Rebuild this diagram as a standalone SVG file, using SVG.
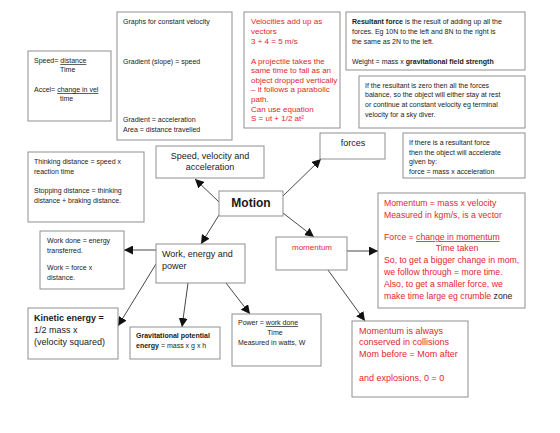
<svg xmlns="http://www.w3.org/2000/svg" width="560" height="433" viewBox="0 0 560 433">
<style>
.b{fill:#fff;stroke:#8f8f8f;stroke-width:1}
text{font-family:"Liberation Sans",Arial,sans-serif;fill:#1a1a1a}
.s{font-size:7px}
.m{font-size:8px}
.l{font-size:9px}
.mm{font-size:8.7px}
.r{fill:#e3262d}
.u{text-decoration:underline}
.c{stroke:#333;stroke-width:0.9;fill:none}
</style>
<defs>
<marker id="a" viewBox="0 0 10 10" refX="10" refY="5" markerWidth="9" markerHeight="9" markerUnits="userSpaceOnUse" orient="auto">
<path d="M0,0 L10,5 L0,10 z" fill="#111"/>
</marker>
</defs>
<g id="connectors">
<line class="c" x1="219" y1="202" x2="195" y2="179" marker-end="url(#a)"/>
<line class="c" x1="219" y1="215" x2="201" y2="244" marker-end="url(#a)"/>
<line class="c" x1="283" y1="196" x2="321" y2="159" marker-end="url(#a)"/>
<line class="c" x1="283" y1="213" x2="314" y2="237" marker-end="url(#a)"/>
<line class="c" x1="347" y1="251" x2="378" y2="251" marker-end="url(#a)"/>
<line class="c" x1="328" y1="270" x2="365" y2="321" marker-end="url(#a)"/>
<line class="c" x1="156" y1="250" x2="124" y2="250" marker-end="url(#a)"/>
<line class="c" x1="156" y1="264" x2="118" y2="326" marker-end="url(#a)"/>
<line class="c" x1="188" y1="283" x2="182" y2="327" marker-end="url(#a)"/>
<line class="c" x1="226" y1="283" x2="250" y2="314" marker-end="url(#a)"/>
</g>
<g id="speed-formula">
<rect class="b" x="28" y="51" width="83" height="70"/>
<text class="s" x="34" y="63">Speed= <tspan class="u">distance</tspan></text>
<text class="s" x="60" y="72">Time</text>
<text class="s" x="34" y="92">Accel= <tspan class="u">change in vel</tspan></text>
<text class="s" x="60" y="101">time</text>
</g>
<g id="graphs">
<rect class="b" x="117" y="12" width="115" height="128"/>
<text class="s" x="123" y="24">Graphs for constant velocity</text>
<text class="s" x="123" y="64">Gradient (slope) = speed</text>
<text class="s" x="123" y="122">Gradient = acceleration</text>
<text class="s" x="123" y="132">Area = distance travelled</text>
</g>
<g id="velocities">
<rect class="b" x="244" y="12" width="96" height="116"/>
<text class="m r" x="251" y="24">Velocities add up as</text>
<text class="m r" x="251" y="34">vectors</text>
<text class="m r" x="251" y="44">3 + 4 = 5 m/s</text>
<text class="m r" x="251" y="64">A projectile takes the</text>
<text class="m r" x="251" y="73">same time to fall as an</text>
<text class="m r" x="251" y="83">object dropped vertically</text>
<text class="m r" x="251" y="92">– it follows a parabolic</text>
<text class="m r" x="251" y="102">path.</text>
<text class="m r" x="251" y="112">Can use equation</text>
<text class="m r" x="251" y="121">S = ut + 1/2 at²</text>
</g>
<g id="resultant">
<rect class="b" x="346" y="12" width="179" height="58"/>
<text class="s" x="352" y="24"><tspan font-weight="bold">Resultant force</tspan> is the result of adding up all the</text>
<text class="s" x="352" y="34">forces. Eg 10N to the left and 8N to the right is</text>
<text class="s" x="352" y="44">the same as 2N to the left.</text>
<text class="s" x="352" y="64">Weight = mass x <tspan font-weight="bold">gravitational field strength</tspan></text>
</g>
<g id="zero-resultant">
<rect class="b" x="359" y="76" width="166" height="52"/>
<text class="s" x="365" y="88">If the resultant is zero then all the forces</text>
<text class="s" x="365" y="97">balance, so the object will either stay at rest</text>
<text class="s" x="365" y="107">or continue at constant velocity eg terminal</text>
<text class="s" x="365" y="117">velocity for a sky diver.</text>
</g>
<g id="forces">
<rect class="b" x="320" y="133" width="65" height="26"/>
<text class="l" x="353" y="146" text-anchor="middle">forces</text>
</g>
<g id="fma">
<rect class="b" x="403" y="133" width="122" height="45"/>
<text class="s" x="409" y="145">If there is a resultant force</text>
<text class="s" x="409" y="155">then the object will accelerate</text>
<text class="s" x="409" y="164">given by:</text>
<text class="s" x="409" y="174">force =  mass x acceleration</text>
</g>
<g id="speed-velocity">
<rect class="b" x="156" y="146" width="108" height="32"/>
<text class="l" x="210" y="159" text-anchor="middle">Speed, velocity and</text>
<text class="l" x="210" y="170" text-anchor="middle">acceleration</text>
</g>
<g id="motion">
<rect class="b" x="219" y="191" width="64" height="25"/>
<text x="251" y="207" text-anchor="middle" font-size="12" font-weight="bold">Motion</text>
</g>
<g id="thinking">
<rect class="b" x="28" y="152" width="116" height="70"/>
<text class="s" x="34" y="164">Thinking distance = speed x</text>
<text class="s" x="34" y="174">reaction time</text>
<text class="s" x="34" y="193">Stopping distance = thinking</text>
<text class="s" x="34" y="203">distance + braking distance.</text>
</g>
<g id="momentum-formula">
<rect class="b" x="378" y="193" width="147" height="115"/>
<text class="mm r" x="384" y="206">Momentum = mass x velocity</text>
<text class="mm r" x="384" y="218">Measured in kgm/s, is a vector</text>
<text class="mm r" x="384" y="240">Force = <tspan class="u">change in momentum</tspan></text>
<text class="mm r" x="457" y="251" text-anchor="middle">Time taken</text>
<text class="mm r" x="384" y="263">So, to get a bigger change in mom,</text>
<text class="mm r" x="384" y="275">we follow through = more time.</text>
<text class="mm r" x="384" y="287">Also, to get a smaller force, we</text>
<text class="mm" x="384" y="299"><tspan class="r">make time large eg crumble</tspan> zone</text>
</g>
<g id="work-done">
<rect class="b" x="40" y="231" width="84" height="58"/>
<text class="s" x="47" y="243">Work done = energy</text>
<text class="s" x="47" y="253">transferred.</text>
<text class="s" x="47" y="270">Work = force x</text>
<text class="s" x="47" y="280">distance.</text>
</g>
<g id="work-energy">
<rect class="b" x="156" y="244" width="89" height="39"/>
<text class="l" x="162" y="257">Work, energy and</text>
<text class="l" x="162" y="269">power</text>
</g>
<g id="momentum">
<rect class="b" x="276" y="237" width="71" height="33"/>
<text class="m r" x="312" y="250" text-anchor="middle">momentum</text>
</g>
<g id="kinetic">
<rect class="b" x="28" y="308" width="90" height="51"/>
<text class="l" x="34" y="321" font-weight="bold">Kinetic energy =</text>
<text class="l" x="34" y="333">1/2 mass x</text>
<text class="l" x="34" y="345">(velocity squared)</text>
</g>
<g id="gpe">
<rect class="b" x="130" y="327" width="90" height="32"/>
<text class="s" x="136" y="338" font-weight="bold">Gravitational potential</text>
<text class="s" x="136" y="348"><tspan font-weight="bold">energy</tspan> = mass x g x h</text>
</g>
<g id="power">
<rect class="b" x="232" y="314" width="89" height="52"/>
<text class="s" x="238" y="325">Power = <tspan class="u">work done</tspan></text>
<text class="s" x="275" y="335" text-anchor="middle">Time</text>
<text class="s" x="238" y="345">Measured in watts, W</text>
</g>
<g id="conserved">
<rect class="b" x="352" y="321" width="116" height="76"/>
<text class="l r" x="359" y="334">Momentum is always</text>
<text class="l r" x="359" y="345">conserved in collisions</text>
<text class="l r" x="359" y="357">Mom before = Mom after</text>
<text class="l r" x="359" y="381">and explosions, 0 = 0</text>
</g>
</svg>
